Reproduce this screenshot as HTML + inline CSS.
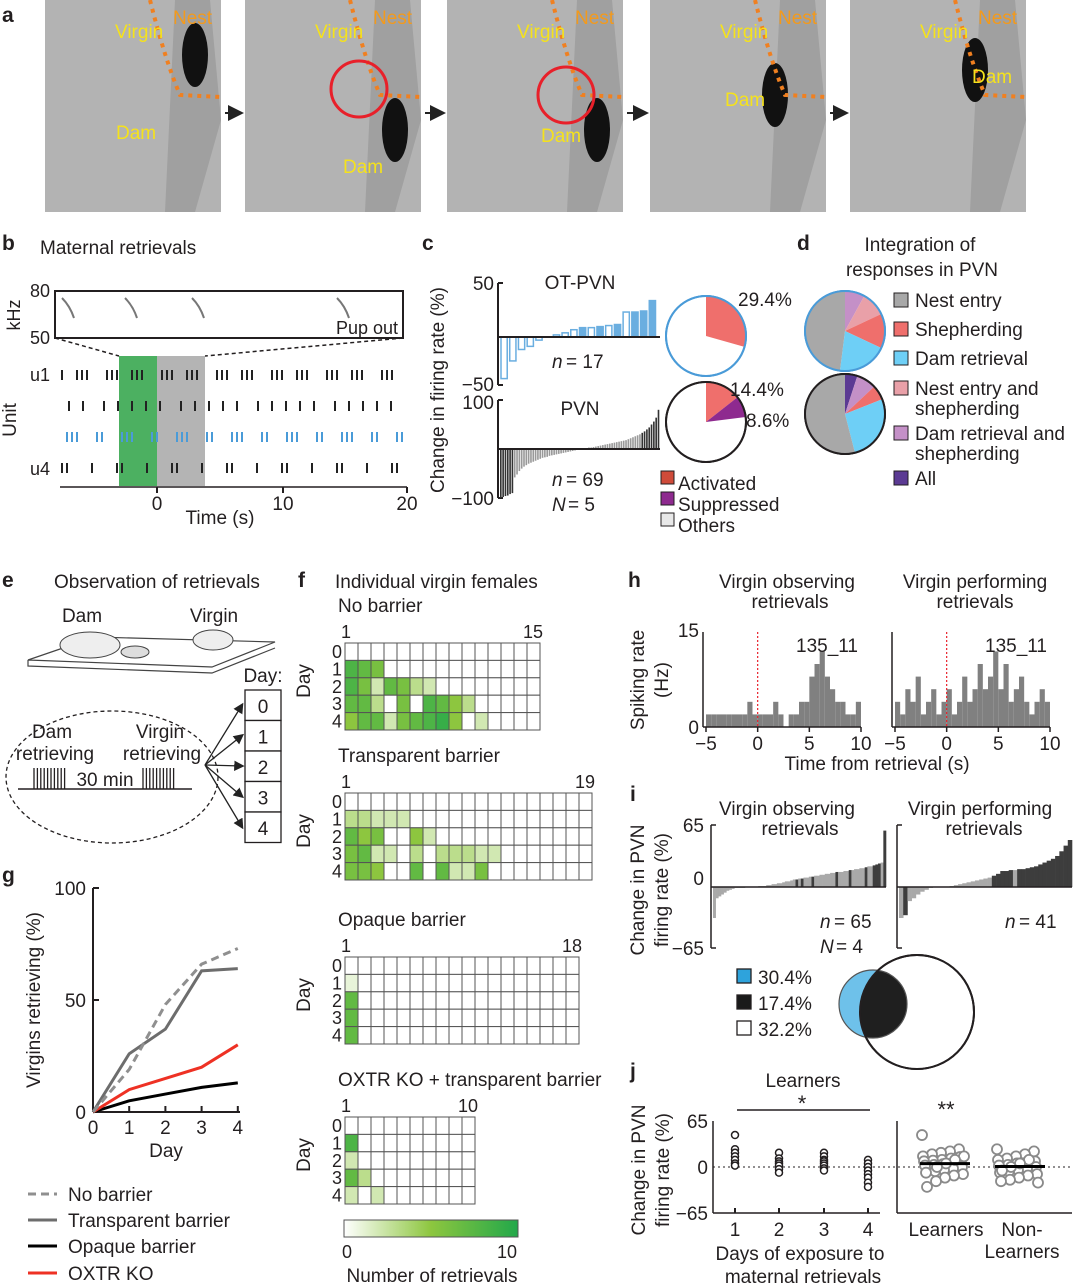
<!DOCTYPE html>
<html><head><meta charset="utf-8"><style>
html,body{margin:0;padding:0;background:#fff;}
svg{display:block;font-family:"Liberation Sans",sans-serif;}
</style></head><body>
<svg id="fig" width="1078" height="1286" viewBox="0 0 1078 1286" xmlns="http://www.w3.org/2000/svg">
<defs>
<marker id="ar" markerWidth="8" markerHeight="8" refX="6" refY="4" orient="auto"><path d="M0,0 L8,4 L0,8 z" fill="#222"/></marker>
<linearGradient id="cb" x1="0" x2="1"><stop offset="0" stop-color="#fff"/><stop offset="0.5" stop-color="#8dc63f"/><stop offset="1" stop-color="#22a84a"/></linearGradient>
<clipPath id="bigc"><circle cx="917" cy="1012" r="57"/></clipPath>
</defs>
<g font-size="21" font-weight="bold" fill="#231f20">
<text x="2" y="22">a</text>
<text x="2" y="250">b</text>
<text x="422" y="250">c</text>
<text x="797" y="250">d</text>
<text x="2" y="587">e</text>
<text x="298" y="587">f</text>
<text x="628" y="587">h</text>
<text x="2" y="882">g</text>
<text x="630" y="801">i</text>
<text x="630" y="1078">j</text>
</g>
<g id="photos"></g>
<g id="panelb"></g>
<g id="panelc"></g>
<g id="paneld"></g>
<g id="panele"></g>
<g id="panelf"></g>
<g id="panelg"></g>
<g id="panelh"></g>
<g id="paneli"></g>
<g id="panelj"></g>
</svg>
<script>
// ---------- data ----------
var gDays = [0,1,2,3,4];
var gNoBarrier = [0,19,48,66,73];
var gTransparent = [0,26,37,63,64];
var gOpaque = [0,5,8,11,13];
var gOxtr = [0,10,15,20,30];
var gTicksY = [0,50,100];

var fNoBarrier = [
 [0,0,0,0,0,0,0,0,0,0,0,0,0,0,0],
 [8,7,6,0,0,0,0,0,0,0,0,0,0,0,0],
 [8,6,2,7,6,3,2,0,0,0,0,0,0,0,0],
 [7,7,3,0,6,0,8,7,5,3,0,0,0,0,0],
 [5,7,7,2,6,7,8,9,5,0,2,0,0,0,0]];
var fTransparent = [
 [0,0,0,0,0,0,0,0,0,0,0,0,0,0,0,0,0,0,0],
 [3,3,2,2,2,0,0,0,0,0,0,0,0,0,0,0,0,0,0],
 [7,5,6,0,0,5,2,0,0,0,0,0,0,0,0,0,0,0,0],
 [6,7,2,2,0,3,0,3,3,3,2,2,0,0,0,0,0,0,0],
 [6,6,5,0,0,7,0,7,2,2,6,0,0,0,0,0,0,0,0]];
var fOpaque = [
 [0,0,0,0,0,0,0,0,0,0,0,0,0,0,0,0,0,0],
 [1,0,0,0,0,0,0,0,0,0,0,0,0,0,0,0,0,0],
 [7,0,0,0,0,0,0,0,0,0,0,0,0,0,0,0,0,0],
 [7,0,0,0,0,0,0,0,0,0,0,0,0,0,0,0,0,0],
 [7,0,0,0,0,0,0,0,0,0,0,0,0,0,0,0,0,0]];
var fOxtr = [
 [0,0,0,0,0,0,0,0,0,0],
 [8,0,0,0,0,0,0,0,0,0],
 [2,0,0,0,0,0,0,0,0,0],
 [7,3,0,0,0,0,0,0,0,0],
 [2,0,2,0,0,0,0,0,0,0]];

var cOtValues = [-40,-23,-12,-9,-3,0,2,4,7,9,9,10,11,12,24,24,25,35];
var cOtFilled = [0,0,0,0,0,0,0,0,0,1,0,1,0,1,0,1,1,1];
var cPvnValues = [-100,-98,-96,-95,-92,-90,-58,-52,-45,-40,-36,-33,-30,-28,-26,-24,-22,-20,-18,-17,-16,-14,-13,-12,-11,-10,-9,-8,-7,-6,-5,-4,-3,-2,-1,0,1,2,3,3,4,5,6,7,8,9,10,11,12,13,14,15,16,17,18,20,22,24,26,28,30,33,36,40,44,50,56,64,80];
var cOtPie = [29.4];
var cPvnPie = [14.4,8.6];

var hLeft = [2,2,2,2,2,2,2,2,4,2,2,2,2,4,2,0,2,2,4,4,8,10,12,8,6,4,4,2,2,4];
var hRight = [4,2,6,4,8,2,4,6,2,4,6,2,4,8,4,6,10,6,8,12,6,10,4,6,8,4,2,4,6,4];
var hBinsStart = -5;
var hBinWidth = 0.5;

var iObserving = [-33,-12,-10,-8,-6,-4,-3,-2,-1,-1,-1,-1,0,0,0,0,0,1,1,1,2,2,3,3,4,4,5,6,6,7,8,8,9,9,10,10,11,11,12,12,13,13,14,14,15,15,16,16,16,17,17,18,18,19,19,20,20,21,22,22,23,24,25,26,60];
var iObservingDark = [0,0,0,0,0,0,0,0,0,0,0,0,0,0,0,0,0,0,0,0,0,0,0,0,0,0,0,0,0,0,0,1,0,1,0,0,0,1,0,0,0,0,0,0,0,0,1,0,0,0,0,1,0,0,0,0,0,1,0,0,1,1,1,0,1];
var iPerforming = [-33,-30,-15,-12,-8,-5,-3,-1,0,0,0,0,1,2,3,4,5,6,7,8,9,10,12,14,17,17,18,18,19,19,20,21,22,24,26,28,30,33,38,44,50];
var iPerformingDark = [0,1,0,0,0,0,0,0,0,0,0,0,0,0,0,0,0,0,0,0,0,0,1,1,1,1,1,0,1,1,1,1,1,1,1,1,1,1,1,1,1];
var iVenn = [30.4,17.4,32.2];

var jDay1 = [45,25,20,15,10,5,2];
var jDay2 = [20,12,8,5,2,-3,-8];
var jDay3 = [20,15,10,8,5,2,-2,-5];
var jDay4 = [10,5,0,-5,-10,-15,-22,-28];
var jLearners = [45,25,22,20,18,15,14,12,10,9,8,6,5,4,3,2,0,-2,-4,-6,-8,-10,-12,-15,-20,-28,15,10,5,0];
var jNonLearners = [25,22,18,15,12,10,8,6,5,3,2,0,-2,-4,-6,-8,-10,-12,-15,-18,-20,-22,10,5,0,-5];

// ---------- helpers ----------
var NS='http://www.w3.org/2000/svg';
function mk(par,tag,at){var e=document.createElementNS(NS,tag);for(var k in at)e.setAttribute(k,at[k]);document.getElementById(par).appendChild(e);return e;}
function tx(par,x,y,s,fs,anchor,extra){var e=mk(par,'text',{x:x,y:y,'font-size':fs||19,'text-anchor':anchor||'start',fill:'#231f20'});if(extra)for(var k in extra)e.setAttribute(k,extra[k]);e.textContent=s;return e;}
function ln(par,x1,y1,x2,y2,st,w){return mk(par,'line',{x1:x1,y1:y1,x2:x2,y2:y2,stroke:st||'#231f20','stroke-width':w||2});}

// ---------- panel a ----------
var px=[45,245,447,650,850];
for(var i=0;i<5;i++){
 var r=mk('photos','rect',{x:px[i],y:0,width:176,height:212,fill:'#b3b3b3'});
 
 
 mk('photos','path',{d:'M'+(px[i]+130)+',0 L'+(px[i]+165)+',0 L'+(px[i]+176)+',120 L'+(px[i]+150)+',212 L'+(px[i]+120)+',212 Z',fill:'#a0a0a0'});
 mk('photos','ellipse',{cx:px[i]+(i<3?150:125),cy:(i==0?55:i<3?130:i==3?95:70),rx:13,ry:32,fill:'#111'});
 mk('photos','path',{d:'M'+(px[i]+105)+',0 Q'+(px[i]+120)+',60 '+(px[i]+135)+',95 L'+(px[i]+176)+',97',stroke:'#f08020','stroke-width':4,'stroke-dasharray':'4 5',fill:'none'});
 tx('photos',px[i]+128,24,'Nest',19,'start',{fill:'#f39a1c'});
 tx('photos',px[i]+70,38,'Virgin',19,'start',{fill:'#f5e21c'});
 if(i<4)mk('photos','line',{x1:px[i]+180,y1:113,x2:px[i+1]-5,y2:113,stroke:'#222','stroke-width':2,'marker-end':'url(#ar)'});
}
tx('photos',116,139,'Dam',19,'start',{fill:'#f5e21c'});
tx('photos',343,173,'Dam',19,'start',{fill:'#f5e21c'});
tx('photos',541,142,'Dam',19,'start',{fill:'#f5e21c'});
tx('photos',725,106,'Dam',19,'start',{fill:'#f5e21c'});
tx('photos',972,83,'Dam',19,'start',{fill:'#f5e21c'});
mk('photos','circle',{cx:359,cy:89,r:28,fill:'none',stroke:'#e8202a','stroke-width':3});
mk('photos','circle',{cx:566,cy:95,r:28,fill:'none',stroke:'#e8202a','stroke-width':3});

// ---------- panel b ----------
tx('panelb',40,254,'Maternal retrievals',19);
mk('panelb','rect',{x:55,y:291,width:348,height:47,fill:'#fff',stroke:'#231f20','stroke-width':2});
[70,133,200,345].forEach(function(x){mk('panelb','path',{d:'M'+(x-8)+',298 Q'+x+',306 '+(x+4)+',318',stroke:'#777','stroke-width':2,fill:'none'});});
tx('panelb',398,334,'Pup out',18,'end');
tx('panelb',50,297,'80',18,'end');tx('panelb',50,344,'50',18,'end');
tx('panelb',20,315,'kHz',18,'middle',{transform:'rotate(-90 20 315)'});
mk('panelb','path',{d:'M55,338 L119,356 M403,338 L205,356',stroke:'#231f20','stroke-width':1.5,'stroke-dasharray':'4 3',fill:'none'});
mk('panelb','rect',{x:119,y:356,width:38,height:130,fill:'#4cb061'});
mk('panelb','rect',{x:157,y:356,width:48,height:130,fill:'#b4b4b4'});
var rrows=[375,406,437,468],rcol=['#222','#222','#4a9bd8','#222'];
for(var r2=0;r2<4;r2++){for(var x=62;x<405;x+= (r2==1?7:5)){ if(((x*7+r2*13)%11)<(r2==0?6:r2==3?3:5)) ln('panelb',x,rrows[r2]-5,x,rrows[r2]+5,rcol[r2],2);}}
tx('panelb',30,381,'u1',18);tx('panelb',30,475,'u4',18);
tx('panelb',16,420,'Unit',19,'middle',{transform:'rotate(-90 16 420)'});
ln('panelb',60,487,407,487,'#231f20',1.5);
[[157,'0'],[283,'10'],[407,'20']].forEach(function(t){ln('panelb',t[0],487,t[0],493);tx('panelb',t[0],510,t[1],19,'middle');});
tx('panelb',220,524,'Time (s)',19,'middle');

// ---------- panel c ----------
tx('panelc',444,390,'Change in firing rate (%)',19,'middle',{transform:'rotate(-90 444 390)'});
function yOt(v){return 337-v*1.04;}
ln('panelc',498,283,498,385);ln('panelc',498,283,503,283);ln('panelc',498,385,503,385);
tx('panelc',494,290,'50',19,'end');tx('panelc',494,391,'\u221250',19,'end');
var otw=(657-500)/cOtValues.length;
cOtValues.forEach(function(v,k){var x=500+k*otw,y0=yOt(0),y1=yOt(v);
 var b=mk('panelc','rect',{x:x+1,y:Math.min(y0,y1),width:otw-2.5,height:Math.abs(y1-y0),fill:cOtFilled[k]?'#6aaee0':'#fff',stroke:'#6aaee0','stroke-width':1.5});
 
 });
ln('panelc',498,yOt(0),660,yOt(0));
tx('panelc',580,289,'OT-PVN',19,'middle');
tx('panelc',552,368,'n',19,'start',{'font-style':'italic'});tx('panelc',566,368,'= 17',19);
function yPvn(v){return 449-v*0.49;}
ln('panelc',498,400,498,498);ln('panelc',498,400,503,400);ln('panelc',498,498,503,498);
tx('panelc',494,409,'100',19,'end');tx('panelc',494,505,'\u2212100',19,'end');
var pw=(660-500)/cPvnValues.length;
cPvnValues.forEach(function(v,k){var x=500+k*pw,y0=yPvn(0),y1=yPvn(v);
 var b=mk('panelc','rect',{x:x,y:Math.min(y0,y1),width:pw*0.7,height:Math.abs(y1-y0),fill:(k<6||k>60)?'#333':'#999'});
 
 });
ln('panelc',498,yPvn(0),660,yPvn(0));
tx('panelc',580,415,'PVN',19,'middle');
tx('panelc',552,486,'n',19,'start',{'font-style':'italic'});tx('panelc',566,486,'= 69',19);
tx('panelc',552,511,'N',19,'start',{'font-style':'italic'});tx('panelc',568,511,'= 5',19);
function pie(par,cx,cy,r,fracs,cols,st){var a=-Math.PI/2;mk(par,'circle',{cx:cx,cy:cy,r:r,fill:'#fff',stroke:st,'stroke-width':2});
 fracs.forEach(function(f,k){var a2=a+f/100*2*Math.PI;var p=mk(par,'path',{d:'M'+cx+','+cy+' L'+(cx+r*Math.cos(a))+','+(cy+r*Math.sin(a))+' A'+r+','+r+' 0 '+(f>50?1:0)+' 1 '+(cx+r*Math.cos(a2))+','+(cy+r*Math.sin(a2))+' Z',fill:cols[k]});
 
 a=a2;});
 mk(par,'circle',{cx:cx,cy:cy,r:r,fill:'none',stroke:st,'stroke-width':2});}
pie('panelc',706,336,40,cOtPie,['#ef6f6c'],'#4a9bd8');
pie('panelc',706,422,40,cPvnPie,['#ef6f6c','#8e2a8f'],'#231f20');
tx('panelc',738,306,'29.4%',19);tx('panelc',730,396,'14.4%',19);tx('panelc',746,427,'8.6%',19);
[['#cf4b3a','Activated',484],['#8e2a8f','Suppressed',505],['#e8e8e8','Others',526]].forEach(function(l){
 var s=mk('panelc','rect',{x:661,y:l[2]-13,width:13,height:13,fill:l[0],stroke:'#231f20','stroke-width':1});
 
 
 tx('panelc',678,l[2]+6,l[1],19);});

// ---------- panel d ----------
tx('paneld',920,251,'Integration of',19,'middle');tx('paneld',922,276,'responses in PVN',19,'middle');
pie('paneld',845,331,40,[8,10,14,20,48],['#c490c7','#e9a0a8','#ef6f6c','#6ecff6','#a8a8a8'],'#4a9bd8');
pie('paneld',845,414,40,[5,8,6,27,54],['#5b3a93','#c490c7','#ef6f6c','#6ecff6','#a8a8a8'],'#231f20');
[['#a8a8a8','Nest entry',307],['#ef6f6c','Shepherding',336],['#6ecff6','Dam retrieval',365],['#e9a0a8','Nest entry and',395],['#c490c7','Dam retrieval and',440],['#5b3a93','All',485]].forEach(function(l){
 var s=mk('paneld','rect',{x:894,y:l[2]-14,width:14,height:14,fill:l[0],stroke:'#231f20','stroke-width':1});
 
 
 tx('paneld',915,l[2],l[1],19);});
tx('paneld',915,415,'shepherding',19);tx('paneld',915,460,'shepherding',19);

// ---------- panel e ----------
tx('panele',54,588,'Observation of retrievals',19);
tx('panele',82,622,'Dam',19,'middle');tx('panele',214,622,'Virgin',19,'middle');
mk('panele','path',{d:'M28,660 L95,637 L275,642 L212,667 Z M28,660 L28,666 L212,673 L275,648',fill:'#fff',stroke:'#444','stroke-width':1.2});
mk('panele','ellipse',{cx:90,cy:645,rx:30,ry:13,fill:'#eee',stroke:'#444'});
mk('panele','ellipse',{cx:213,cy:640,rx:20,ry:10,fill:'#eee',stroke:'#444'});
mk('panele','ellipse',{cx:135,cy:652,rx:14,ry:6,fill:'#ddd',stroke:'#444'});
mk('panele','ellipse',{cx:112,cy:777,rx:106,ry:66,fill:'none',stroke:'#231f20','stroke-width':1.3,'stroke-dasharray':'4 3'});
tx('panele',52,738,'Dam',19,'middle');tx('panele',55,760,'retrieving',19,'middle');
tx('panele',160,738,'Virgin',19,'middle');tx('panele',162,760,'retrieving',19,'middle');
ln('panele',18,789,192,789,'#231f20',1.5);
for(var k=0;k<10;k++){ln('panele',34+k*3.4,768,34+k*3.4,789,'#231f20',1.3);ln('panele',143+k*3.4,768,143+k*3.4,789,'#231f20',1.3);}
tx('panele',105,786,'30 min',19,'middle');
tx('panele',263,682,'Day:',19,'middle');
for(var k=0;k<5;k++){mk('panele','rect',{x:245,y:690+k*30.5,width:36,height:30.5,fill:'#fff',stroke:'#231f20','stroke-width':1.3});tx('panele',263,713+k*30.5,String(k),19,'middle');
 mk('panele','line',{x1:205,y1:765,x2:242,y2:705+k*30.5,stroke:'#222','stroke-width':1.3,'marker-end':'url(#ar)'});}

// ---------- panel f ----------
tx('panelf',335,588,'Individual virgin females',19);
function col(v){if(v<=0)return '#fff';var t=v/10;var a=[255,255,255],b=[141,198,63],c=[34,168,74];var p,q,u;if(t<0.5){p=a;q=b;u=t/0.5;}else{p=b;q=c;u=(t-0.5)/0.5;}return 'rgb('+p.map(function(x,i){return Math.round(x+(q[i]-x)*u);}).join(',')+')';}
function grid(m,x0,y0,title,last){var cw=13,ch=17.4;tx('panelf',x0-7,y0-31,title,19);
 tx('panelf',x0+1,y0-5,'1',18,'middle');tx('panelf',x0+m[0].length*cw-7,y0-5,String(last),18,'middle');
 tx('panelf',316,y0+44,'Day',19,'middle',{transform:'rotate(-90 310 '+(y0+44)+')'});
 m.forEach(function(row,ri){tx('panelf',x0-3,y0+ch*ri+15,String(ri),18,'end');
  row.forEach(function(v,ci){var c=mk('panelf','rect',{x:x0+ci*cw,y:y0+ri*ch,width:cw,height:ch,fill:col(v),stroke:'#555','stroke-width':1});
   
   });});}
grid(fNoBarrier,345,643,'No barrier',15);
grid(fTransparent,345,793,'Transparent barrier',19);
grid(fOpaque,345,957,'Opaque barrier',18);
grid(fOxtr,345,1117,'OXTR KO + transparent barrier',10);
mk('panelf','rect',{x:344,y:1220,width:174,height:17,fill:'url(#cb)',stroke:'#555','stroke-width':1});
tx('panelf',347,1258,'0',18,'middle');tx('panelf',507,1258,'10',18,'middle');
tx('panelf',432,1282,'Number of retrievals',19,'middle');

// ---------- panel g ----------
function gx(d){return 93+d*36.2;}function gy(v){return 1112-v*2.24;}
ln('panelg',93,888,93,1112);ln('panelg',93,1112,240,1112);
gTicksY.forEach(function(t){ln('panelg',93,gy(t),99,gy(t));tx('panelg',86,gy(t)+7,String(t),19,'end');});
gDays.forEach(function(d){ln('panelg',gx(d),1112,gx(d),1106);tx('panelg',gx(d),1134,String(d),19,'middle');});
tx('panelg',166,1157,'Day',19,'middle');
tx('panelg',40,1000,'Virgins retrieving (%)',19,'middle',{transform:'rotate(-90 40 1000)'});
function gline(vals,st,dash,w,name){var d=vals.map(function(v,i){return (i?'L':'M')+gx(gDays[i])+','+gy(v);}).join(' ');
 var p=mk('panelg','path',{d:d,fill:'none',stroke:st,'stroke-width':w,'stroke-dasharray':dash||'none'});
 
 }
gline(gOpaque,'#000','',3,'line-opaque-barrier');
gline(gOxtr,'#ee3124','',3,'line-oxtr-ko');
gline(gTransparent,'#6d6d6d','',3,'line-transparent-barrier');
gline(gNoBarrier,'#8f8f8f','8 5',3,'line-no-barrier');
[['No barrier','#8f8f8f','8 5',1201],['Transparent barrier','#6d6d6d','',1227],['Opaque barrier','#000','',1253],['OXTR KO','#ee3124','',1280]].forEach(function(l){
 mk('panelg','line',{x1:28,y1:l[3]-7,x2:57,y2:l[3]-7,stroke:l[1],'stroke-width':3,'stroke-dasharray':l[2]||'none'});tx('panelg',68,l[3],l[0],19);});

// ---------- panel h ----------
tx('panelh',787,588,'Virgin observing',19,'middle');tx('panelh',790,608,'retrievals',19,'middle');
tx('panelh',975,588,'Virgin performing',19,'middle');tx('panelh',975,608,'retrievals',19,'middle');
tx('panelh',644,680,'Spiking rate',19,'middle',{transform:'rotate(-90 644 680)'});
tx('panelh',668,680,'(Hz)',19,'middle',{transform:'rotate(-90 668 680)'});
function hist(vals,x0){var sx=155/15;function X(t){return x0+(t+5)*sx;}function Y(v){return 727-v*6.3;}
 vals.forEach(function(v,k){var t=hBinsStart+k*hBinWidth;var b=mk('panelh','rect',{x:X(t),y:Y(v),width:hBinWidth*sx,height:727-Y(v),fill:'#808080'});
  
  });
 ln('panelh',x0-3,632,x0-3,727,'#231f20',1.5);ln('panelh',x0-3,727,X(10),727,'#231f20',1.5);
 ln('panelh',X(0),632,X(0),727,'#e8202a',1.2).setAttribute('stroke-dasharray','2 2');
 [-5,0,5,10].forEach(function(t){ln('panelh',X(t),727,X(t),732,'#231f20',1.5);tx('panelh',X(t),750,t<0?'\u22125':String(t),19,'middle');});
 tx('panelh',X(10)-3,652,'135_11',19,'end');}
hist(hLeft,706);hist(hRight,895);
tx('panelh',699,637,'15',19,'end');tx('panelh',699,734,'0',19,'end');
tx('panelh',877,770,'Time from retrieval (s)',19,'middle');

// ---------- panel i ----------
tx('paneli',787,815,'Virgin observing',19,'middle');tx('paneli',800,835,'retrievals',19,'middle');
tx('paneli',980,815,'Virgin performing',19,'middle');tx('paneli',984,835,'retrievals',19,'middle');
tx('paneli',644,890,'Change in PVN',19,'middle',{transform:'rotate(-90 644 890)'});
tx('paneli',668,890,'firing rate (%)',19,'middle',{transform:'rotate(-90 668 890)'});
function ybar(v){return 887-v*0.94;}
function ibars(vals,dark,x0,x1){ln('paneli',x0,825,x0,948,'#231f20',1.5);ln('paneli',x0,825,x0+5,825,'#231f20',1.5);ln('paneli',x0,948,x0+5,948,'#231f20',1.5);
 var w=(x1-x0-2)/vals.length;vals.forEach(function(v,k){var y=ybar(v);var b=mk('paneli','rect',{x:x0+2+k*w,y:Math.min(y,887),width:w+0.3,height:Math.abs(887-y),fill:dark[k]?'#3d3d3d':'#a9a9a9'});
  
  });
 ln('paneli',x0,887,x1,887,'#231f20',1.5);}
ibars(iObserving,iObservingDark,711,886);ibars(iPerforming,iPerformingDark,897,1072);
tx('paneli',704,832,'65',19,'end');tx('paneli',704,885,'0',19,'end');tx('paneli',704,955,'\u221265',19,'end');
tx('paneli',820,928,'n',19,'start',{'font-style':'italic'});tx('paneli',834,928,'= 65',19);
tx('paneli',820,953,'N',19,'start',{'font-style':'italic'});tx('paneli',836,953,'= 4',19);
tx('paneli',1005,928,'n',19,'start',{'font-style':'italic'});tx('paneli',1019,928,'= 41',19);
[['#2ea3dc',0,984],['#1a1a1a',1,1010],['#fff',2,1036]].forEach(function(l){mk('paneli','rect',{x:737,y:l[2]-15,width:14,height:14,fill:l[0],stroke:'#231f20','stroke-width':1.3});tx('paneli',758,l[2],iVenn[l[1]].toFixed(1)+'%',19);});
mk('paneli','circle',{cx:917,cy:1012,r:57,fill:'#fff',stroke:'#231f20','stroke-width':2});
mk('paneli','circle',{cx:873,cy:1004,r:34,fill:'#6ec1ea'});
mk('paneli','circle',{cx:873,cy:1004,r:34,fill:'#1f1f1f','clip-path':'url(#bigc)'});
mk('paneli','circle',{cx:873,cy:1004,r:34,fill:'none',stroke:'#555','stroke-width':1.2});
mk('paneli','circle',{cx:917,cy:1012,r:57,fill:'none',stroke:'#231f20','stroke-width':2});

// ---------- panel j ----------
tx('panelj',803,1087,'Learners',19,'middle');
ln('panelj',737,1110,870,1110,'#231f20',1.5);tx('panelj',802,1111,'*',22,'middle');
tx('panelj',946,1117,'**',22,'middle');
tx('panelj',645,1170,'Change in PVN',19,'middle',{transform:'rotate(-90 645 1170)'});
tx('panelj',669,1170,'firing rate (%)',19,'middle',{transform:'rotate(-90 669 1170)'});
function jy(v){return 1167-v*0.71;}
ln('panelj',713,1121,713,1213,'#231f20',1.5);ln('panelj',713,1213,880,1213,'#231f20',1.5);
ln('panelj',897,1121,897,1213,'#231f20',1.5);ln('panelj',897,1213,1072,1213,'#231f20',1.5);
ln('panelj',713,1167,1072,1167,'#231f20',1).setAttribute('stroke-dasharray','2 3');
tx('panelj',708,1128,'65',19,'end');tx('panelj',708,1174,'0',19,'end');tx('panelj',708,1220,'\u221265',19,'end');
[[jDay1,735,'1'],[jDay2,779,'2'],[jDay3,824,'3'],[jDay4,868,'4']].forEach(function(g){g[0].forEach(function(v){var c=mk('panelj','circle',{cx:g[1],cy:jy(v),r:3.5,fill:'#fff',stroke:'#231f20','stroke-width':1.5});
 
 });ln('panelj',g[1],1213,g[1],1208);tx('panelj',g[1],1236,g[2],19,'middle');});
function cloud(vals,cx){var s=0;vals.forEach(function(v,k){s+=v;var c=mk('panelj','circle',{cx:cx+((k*37)%46)-23,cy:jy(v),r:5,fill:'#fff',stroke:'#8a8a8a','stroke-width':1.8});
 
 });var m=s/vals.length;ln('panelj',cx-25,jy(m),cx+25,jy(m),'#000',3);}
cloud(jLearners,945);cloud(jNonLearners,1020);
tx('panelj',946,1236,'Learners',19,'middle');tx('panelj',1022,1236,'Non-',19,'middle');tx('panelj',1022,1258,'Learners',19,'middle');
tx('panelj',800,1260,'Days of exposure to',19,'middle');tx('panelj',803,1283,'maternal retrievals',19,'middle');
</script>
</body></html>
